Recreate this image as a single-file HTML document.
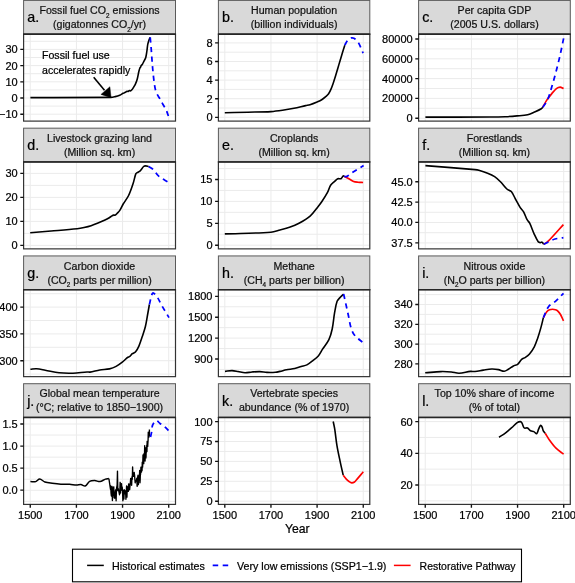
<!DOCTYPE html><html><head><meta charset="utf-8"><style>html,body{margin:0;padding:0;background:#fff;overflow:hidden;}svg{display:block;will-change:transform;}text{font-family:"Liberation Sans", sans-serif;stroke:currentColor;stroke-width:0.22px;}</style></head><body>
<svg width="575" height="583" viewBox="0 0 575 583">
<rect width="575" height="583" fill="#fff"/>
<rect x="23.60" y="0.40" width="151.90" height="33.70" fill="#d9d9d9" stroke="#5a5a5a" stroke-width="1"/>
<text x="99.55" y="14.00" font-size="10.62" text-anchor="middle" fill="#1a1a1a">Fossil fuel CO<tspan dy="3.7" font-size="6.3">2</tspan><tspan dy="-3.7"> emissions</tspan></text>
<text x="99.55" y="28.10" font-size="10.62" text-anchor="middle" fill="#1a1a1a">(gigatonnes CO<tspan dy="3.7" font-size="6.3">2</tspan><tspan dy="-3.7">/yr)</tspan></text>
<text x="27.20" y="22.30" font-size="14.3" fill="#000">a.</text>
<rect x="23.60" y="34.10" width="151.90" height="87.00" fill="#fff"/>
<path d="M23.60 41.30H175.50 M23.60 49.40H175.50 M23.60 57.50H175.50 M23.60 65.60H175.50 M23.60 73.70H175.50 M23.60 81.80H175.50 M23.60 89.90H175.50 M23.60 98.00H175.50 M23.60 106.10H175.50 M23.60 114.20H175.50 M30.26 34.10V121.10 M76.41 34.10V121.10 M122.56 34.10V121.10 M168.71 34.10V121.10" stroke="#ebebeb" stroke-width="1" fill="none"/>
<path d="M30.40 97.60 C57.17 97.53 83.96 97.72 110.70 97.40 C112.22 97.38 113.72 96.96 115.20 96.60 C116.72 96.23 118.26 95.80 119.70 95.20 C120.89 94.70 121.95 93.90 123.10 93.30 C124.01 92.83 124.99 92.47 125.90 92.00 C126.29 91.80 126.60 91.40 127.00 91.30 C127.37 91.20 127.84 91.52 128.20 91.40 C128.67 91.25 129.04 90.60 129.50 90.50 C129.81 90.43 130.20 91.00 130.50 90.90 C131.07 90.70 131.66 90.12 132.10 89.60 C132.66 88.95 133.06 88.15 133.50 87.40 C134.19 86.22 134.94 85.05 135.50 83.80 C136.17 82.31 136.77 80.77 137.20 79.20 C137.91 76.61 138.26 73.91 138.90 71.30 C139.19 70.11 139.54 68.91 140.00 67.80 C140.11 67.54 140.47 67.45 140.60 67.20 C140.87 66.68 140.89 65.99 141.20 65.50 C141.46 65.09 142.04 64.91 142.30 64.50 C142.97 63.45 143.43 62.23 144.00 61.10 C144.56 60.00 145.36 58.98 145.70 57.80 C146.33 55.61 146.55 53.27 146.90 51.00 C147.25 48.74 147.36 46.44 147.80 44.20 C148.10 42.67 148.58 41.17 149.10 39.70 C149.38 38.90 149.83 38.17 150.20 37.40" fill="none" stroke="#000" stroke-width="1.60" stroke-linejoin="round"/>
<path d="M150.20 37.40 C150.53 41.17 150.90 44.93 151.20 48.70 C151.60 53.80 151.89 58.90 152.30 64.00 C152.59 67.67 152.92 71.34 153.30 75.00 C153.62 78.01 153.96 81.01 154.40 84.00 C154.69 86.01 154.99 88.04 155.50 90.00 C155.86 91.37 156.37 92.73 157.00 94.00 C157.87 95.73 159.04 97.31 160.00 99.00 C161.04 100.81 161.96 102.69 163.00 104.50 C163.96 106.19 165.20 107.74 166.00 109.50 C167.16 112.04 167.93 114.77 168.90 117.40" fill="none" stroke="#0000ff" stroke-width="1.75" stroke-dasharray="5.2 4.4" stroke-linejoin="round"/>
<rect x="23.60" y="34.10" width="151.90" height="87.00" fill="none" stroke="#333" stroke-width="1.2"/>
<path d="M23.10 34.25H176.00" stroke="#262626" stroke-width="1.6"/>
<text x="17.70" y="53.30" font-size="11" text-anchor="end" fill="#000">30</text>
<text x="17.70" y="69.50" font-size="11" text-anchor="end" fill="#000">20</text>
<text x="17.70" y="85.70" font-size="11" text-anchor="end" fill="#000">10</text>
<text x="17.70" y="101.90" font-size="11" text-anchor="end" fill="#000">0</text>
<text x="17.70" y="118.10" font-size="11" text-anchor="end" fill="#000">−10</text>
<path d="M20.30 49.40H23.60 M20.30 65.60H23.60 M20.30 81.80H23.60 M20.30 98.00H23.60 M20.30 114.20H23.60" stroke="#111" stroke-width="1.35" fill="none"/>
<rect x="218.40" y="0.40" width="151.40" height="33.70" fill="#d9d9d9" stroke="#5a5a5a" stroke-width="1"/>
<text x="294.10" y="14.00" font-size="10.62" text-anchor="middle" fill="#1a1a1a">Human population</text>
<text x="294.10" y="28.10" font-size="10.62" text-anchor="middle" fill="#1a1a1a">(billion individuals)</text>
<text x="222.00" y="22.30" font-size="14.3" fill="#000">b.</text>
<rect x="218.40" y="34.10" width="151.40" height="87.00" fill="#fff"/>
<path d="M218.40 42.90H369.80 M218.40 52.20H369.80 M218.40 61.50H369.80 M218.40 70.80H369.80 M218.40 80.10H369.80 M218.40 89.40H369.80 M218.40 98.70H369.80 M218.40 108.00H369.80 M218.40 117.30H369.80 M224.80 34.10V121.10 M270.95 34.10V121.10 M317.10 34.10V121.10 M363.25 34.10V121.10" stroke="#ebebeb" stroke-width="1" fill="none"/>
<path d="M224.80 112.70 C232.50 112.53 240.20 112.38 247.90 112.20 C255.60 112.02 263.32 112.02 271.00 111.60 C274.85 111.39 278.68 110.85 282.50 110.30 C286.35 109.75 290.19 109.08 294.00 108.30 C297.89 107.51 301.73 106.47 305.60 105.60 C307.06 105.27 308.58 105.15 310.00 104.70 C312.41 103.95 314.77 102.98 317.10 102.00 C318.67 101.34 320.27 100.70 321.70 99.80 C323.24 98.83 324.62 97.60 326.00 96.40 C326.92 95.60 327.92 94.80 328.60 93.80 C329.58 92.37 330.30 90.71 331.00 89.10 C331.87 87.08 332.58 84.98 333.30 82.90 C334.11 80.55 334.87 78.18 335.60 75.80 C336.40 73.21 337.13 70.60 337.90 68.00 C338.67 65.40 339.42 62.80 340.20 60.20 C340.96 57.66 341.72 55.13 342.50 52.60 C343.26 50.13 344.03 47.67 344.80 45.20" fill="none" stroke="#000" stroke-width="1.60" stroke-linejoin="round"/>
<path d="M344.80 45.20 C345.57 43.80 346.19 42.29 347.10 41.00 C347.72 40.12 348.53 39.32 349.40 38.70 C350.03 38.25 350.84 37.88 351.60 37.80 C352.34 37.72 353.23 37.86 353.90 38.20 C354.76 38.63 355.51 39.39 356.20 40.10 C357.04 40.96 357.87 41.88 358.50 42.90 C359.40 44.35 360.10 45.94 360.80 47.50 C361.63 49.34 362.33 51.23 363.10 53.10" fill="none" stroke="#0000ff" stroke-width="1.75" stroke-dasharray="5.2 4.4" stroke-linejoin="round"/>
<rect x="218.40" y="34.10" width="151.40" height="87.00" fill="none" stroke="#333" stroke-width="1.2"/>
<path d="M217.90 34.25H370.30" stroke="#262626" stroke-width="1.6"/>
<text x="212.50" y="46.80" font-size="11" text-anchor="end" fill="#000">8</text>
<text x="212.50" y="65.40" font-size="11" text-anchor="end" fill="#000">6</text>
<text x="212.50" y="84.00" font-size="11" text-anchor="end" fill="#000">4</text>
<text x="212.50" y="102.60" font-size="11" text-anchor="end" fill="#000">2</text>
<text x="212.50" y="121.20" font-size="11" text-anchor="end" fill="#000">0</text>
<path d="M215.10 42.90H218.40 M215.10 61.50H218.40 M215.10 80.10H218.40 M215.10 98.70H218.40 M215.10 117.30H218.40" stroke="#111" stroke-width="1.35" fill="none"/>
<rect x="418.60" y="0.40" width="151.70" height="33.70" fill="#d9d9d9" stroke="#5a5a5a" stroke-width="1"/>
<text x="494.45" y="14.00" font-size="10.62" text-anchor="middle" fill="#1a1a1a">Per capita GDP</text>
<text x="494.45" y="28.10" font-size="10.62" text-anchor="middle" fill="#1a1a1a">(2005 U.S. dollars)</text>
<text x="422.20" y="22.30" font-size="14.3" fill="#000">c.</text>
<rect x="418.60" y="34.10" width="151.70" height="87.00" fill="#fff"/>
<path d="M418.60 39.00H570.30 M418.60 48.90H570.30 M418.60 58.80H570.30 M418.60 68.70H570.30 M418.60 78.60H570.30 M418.60 88.50H570.30 M418.60 98.40H570.30 M418.60 108.30H570.30 M418.60 118.20H570.30 M425.26 34.10V121.10 M471.41 34.10V121.10 M517.56 34.10V121.10 M563.71 34.10V121.10" stroke="#ebebeb" stroke-width="1" fill="none"/>
<path d="M425.40 117.10 C446.93 117.07 468.47 117.11 490.00 117.00 C495.03 116.97 500.07 116.90 505.10 116.70 C509.10 116.54 513.11 116.25 517.10 115.90 C520.64 115.59 524.27 115.50 527.70 114.70 C530.30 114.10 532.74 112.79 535.20 111.70 C537.27 110.79 539.37 109.84 541.30 108.70 C541.90 108.34 542.30 107.70 542.80 107.20" fill="none" stroke="#000" stroke-width="1.60" stroke-linejoin="round"/>
<path d="M542.80 107.20 C544.07 104.93 545.17 102.56 546.60 100.40 C548.17 98.03 549.98 95.79 551.80 93.60 C553.25 91.86 554.66 89.96 556.40 88.60 C557.42 87.80 558.87 87.10 560.10 87.10 C561.27 87.10 562.43 88.10 563.60 88.60" fill="none" stroke="#ff0000" stroke-width="1.65" stroke-linejoin="round"/>
<path d="M542.80 107.20 C544.30 104.93 546.21 102.87 547.30 100.40 C549.21 96.07 550.42 91.37 551.80 86.80 C553.46 81.30 554.95 75.75 556.40 70.20 C557.71 65.19 558.96 60.15 560.10 55.10 C561.46 49.09 562.63 43.03 563.90 37.00" fill="none" stroke="#0000ff" stroke-width="1.75" stroke-dasharray="5.2 4.4" stroke-linejoin="round"/>
<rect x="418.60" y="34.10" width="151.70" height="87.00" fill="none" stroke="#333" stroke-width="1.2"/>
<path d="M418.10 34.25H570.80" stroke="#262626" stroke-width="1.6"/>
<text x="412.70" y="42.90" font-size="11" text-anchor="end" fill="#000">80000</text>
<text x="412.70" y="62.70" font-size="11" text-anchor="end" fill="#000">60000</text>
<text x="412.70" y="82.50" font-size="11" text-anchor="end" fill="#000">40000</text>
<text x="412.70" y="102.30" font-size="11" text-anchor="end" fill="#000">20000</text>
<text x="412.70" y="122.10" font-size="11" text-anchor="end" fill="#000">0</text>
<path d="M415.30 39.00H418.60 M415.30 58.80H418.60 M415.30 78.60H418.60 M415.30 98.40H418.60 M415.30 118.20H418.60" stroke="#111" stroke-width="1.35" fill="none"/>
<rect x="23.60" y="128.17" width="151.90" height="33.70" fill="#d9d9d9" stroke="#5a5a5a" stroke-width="1"/>
<text x="99.55" y="141.77" font-size="10.62" text-anchor="middle" fill="#1a1a1a">Livestock grazing land</text>
<text x="99.55" y="155.87" font-size="10.62" text-anchor="middle" fill="#1a1a1a">(Million sq. km)</text>
<text x="27.20" y="150.07" font-size="14.3" fill="#000">d.</text>
<rect x="23.60" y="161.87" width="151.90" height="87.00" fill="#fff"/>
<path d="M23.60 173.40H175.50 M23.60 185.40H175.50 M23.60 197.40H175.50 M23.60 209.40H175.50 M23.60 221.40H175.50 M23.60 233.40H175.50 M23.60 245.40H175.50 M30.26 161.87V248.87 M76.41 161.87V248.87 M122.56 161.87V248.87 M168.71 161.87V248.87" stroke="#ebebeb" stroke-width="1" fill="none"/>
<path d="M30.20 232.70 C37.17 232.13 44.14 231.59 51.10 231.00 C59.80 230.26 68.52 229.62 77.20 228.70 C79.52 228.45 81.82 227.99 84.10 227.50 C86.45 226.99 88.81 226.44 91.10 225.70 C93.45 224.94 95.72 223.94 98.00 223.00 C100.35 222.04 102.70 221.08 105.00 220.00 C106.47 219.31 107.90 218.52 109.30 217.70 C110.23 217.15 111.08 216.47 112.00 215.90 C112.48 215.60 112.96 215.23 113.50 215.10 C114.10 214.96 114.87 215.34 115.40 215.10 C116.03 214.81 116.48 214.05 117.00 213.50 C117.95 212.48 119.04 211.56 119.80 210.40 C121.11 208.39 121.97 206.08 123.20 204.00 C124.91 201.11 127.15 198.51 128.60 195.50 C130.49 191.58 131.82 187.35 133.20 183.20 C134.22 180.15 134.70 176.86 135.80 173.90 C136.00 173.36 136.62 173.04 137.10 172.70 C138.09 172.00 139.34 171.62 140.20 170.80 C141.50 169.56 142.30 167.68 143.60 166.50 C144.10 166.05 144.92 165.90 145.60 165.90 C146.62 165.90 147.67 166.30 148.70 166.50" fill="none" stroke="#000" stroke-width="1.60" stroke-linejoin="round"/>
<path d="M148.70 166.50 C150.23 167.53 151.99 168.33 153.30 169.60 C155.32 171.56 156.54 174.41 158.70 176.20 C161.68 178.67 165.37 180.33 168.70 182.40" fill="none" stroke="#0000ff" stroke-width="1.75" stroke-dasharray="5.2 4.4" stroke-linejoin="round"/>
<rect x="23.60" y="161.87" width="151.90" height="87.00" fill="none" stroke="#333" stroke-width="1.2"/>
<path d="M23.10 162.02H176.00" stroke="#262626" stroke-width="1.6"/>
<text x="17.70" y="177.30" font-size="11" text-anchor="end" fill="#000">30</text>
<text x="17.70" y="201.30" font-size="11" text-anchor="end" fill="#000">20</text>
<text x="17.70" y="225.30" font-size="11" text-anchor="end" fill="#000">10</text>
<text x="17.70" y="249.30" font-size="11" text-anchor="end" fill="#000">0</text>
<path d="M20.30 173.40H23.60 M20.30 197.40H23.60 M20.30 221.40H23.60 M20.30 245.40H23.60" stroke="#111" stroke-width="1.35" fill="none"/>
<rect x="218.40" y="128.17" width="151.40" height="33.70" fill="#d9d9d9" stroke="#5a5a5a" stroke-width="1"/>
<text x="294.10" y="141.77" font-size="10.62" text-anchor="middle" fill="#1a1a1a">Croplands</text>
<text x="294.10" y="155.87" font-size="10.62" text-anchor="middle" fill="#1a1a1a">(Million sq. km)</text>
<text x="222.00" y="150.07" font-size="14.3" fill="#000">e.</text>
<rect x="218.40" y="161.87" width="151.40" height="87.00" fill="#fff"/>
<path d="M218.40 168.55H369.80 M218.40 179.50H369.80 M218.40 190.45H369.80 M218.40 201.40H369.80 M218.40 212.35H369.80 M218.40 223.30H369.80 M218.40 234.25H369.80 M218.40 245.20H369.80 M224.80 161.87V248.87 M270.95 161.87V248.87 M317.10 161.87V248.87 M363.25 161.87V248.87" stroke="#ebebeb" stroke-width="1" fill="none"/>
<path d="M224.80 233.90 C240.17 233.33 255.60 233.28 270.90 232.20 C274.00 231.98 276.98 230.79 280.00 230.00 C283.18 229.16 286.40 228.39 289.50 227.30 C292.73 226.16 295.99 224.92 299.00 223.30 C302.85 221.22 306.83 219.06 310.10 216.20 C313.16 213.52 315.42 209.91 318.00 206.70 C319.36 205.01 320.70 203.30 321.90 201.50 C323.87 198.54 325.82 195.53 327.50 192.40 C328.72 190.13 329.22 187.43 330.60 185.30 C331.59 183.76 333.23 182.66 334.60 181.40 C335.63 180.46 336.59 179.22 337.80 178.70 C338.69 178.32 340.07 179.14 340.90 178.70 C341.91 178.17 342.45 176.44 343.30 175.80 C343.51 175.64 343.83 176.13 344.10 176.30" fill="none" stroke="#000" stroke-width="1.60" stroke-linejoin="round"/>
<path d="M344.10 176.30 C345.40 176.93 346.73 177.52 348.00 178.20 C349.89 179.22 351.63 180.61 353.60 181.40 C354.96 181.95 356.52 182.03 358.00 182.20 C359.69 182.40 361.40 182.40 363.10 182.50" fill="none" stroke="#ff0000" stroke-width="1.65" stroke-linejoin="round"/>
<path d="M344.10 176.30 C344.90 176.40 345.80 176.92 346.50 176.60 C348.44 175.72 350.12 173.92 352.00 172.70 C355.82 170.22 359.73 167.90 363.60 165.50" fill="none" stroke="#0000ff" stroke-width="1.75" stroke-dasharray="5.2 4.4" stroke-linejoin="round"/>
<rect x="218.40" y="161.87" width="151.40" height="87.00" fill="none" stroke="#333" stroke-width="1.2"/>
<path d="M217.90 162.02H370.30" stroke="#262626" stroke-width="1.6"/>
<text x="212.50" y="183.40" font-size="11" text-anchor="end" fill="#000">15</text>
<text x="212.50" y="205.30" font-size="11" text-anchor="end" fill="#000">10</text>
<text x="212.50" y="227.20" font-size="11" text-anchor="end" fill="#000">5</text>
<text x="212.50" y="249.10" font-size="11" text-anchor="end" fill="#000">0</text>
<path d="M215.10 179.50H218.40 M215.10 201.40H218.40 M215.10 223.30H218.40 M215.10 245.20H218.40" stroke="#111" stroke-width="1.35" fill="none"/>
<rect x="418.60" y="128.17" width="151.70" height="33.70" fill="#d9d9d9" stroke="#5a5a5a" stroke-width="1"/>
<text x="494.45" y="141.77" font-size="10.62" text-anchor="middle" fill="#1a1a1a">Forestlands</text>
<text x="494.45" y="155.87" font-size="10.62" text-anchor="middle" fill="#1a1a1a">(Million sq. km)</text>
<text x="422.20" y="150.07" font-size="14.3" fill="#000">f.</text>
<rect x="418.60" y="161.87" width="151.70" height="87.00" fill="#fff"/>
<path d="M418.60 171.50H570.30 M418.60 181.70H570.30 M418.60 191.90H570.30 M418.60 202.10H570.30 M418.60 212.30H570.30 M418.60 222.50H570.30 M418.60 232.70H570.30 M418.60 242.90H570.30 M425.26 161.87V248.87 M471.41 161.87V248.87 M517.56 161.87V248.87 M563.71 161.87V248.87" stroke="#ebebeb" stroke-width="1" fill="none"/>
<path d="M425.40 165.60 C441.93 166.93 458.48 168.18 475.00 169.60 C476.28 169.71 477.57 169.85 478.80 170.20 C481.77 171.05 484.74 172.02 487.60 173.20 C490.01 174.19 492.45 175.26 494.60 176.70 C496.82 178.19 498.80 180.10 500.70 182.00 C502.90 184.20 504.62 186.93 506.90 189.00 C508.15 190.13 510.24 190.34 511.30 191.60 C513.17 193.84 514.23 196.87 515.70 199.50 C517.17 202.13 518.48 204.87 520.10 207.40 C521.11 208.97 522.68 210.18 523.60 211.80 C525.01 214.28 525.75 217.17 527.10 219.70 C527.78 220.97 529.06 221.91 529.70 223.20 C531.39 226.61 532.50 230.33 534.10 233.80 C535.34 236.49 536.56 239.37 538.20 241.70 C538.62 242.30 539.58 242.51 540.30 242.60 C540.85 242.67 541.55 241.98 542.00 242.20 C542.72 242.55 543.20 243.60 543.80 244.30" fill="none" stroke="#000" stroke-width="1.60" stroke-linejoin="round"/>
<path d="M543.80 244.30 C545.27 243.27 546.94 242.47 548.20 241.20 C553.47 235.90 558.33 230.13 563.40 224.60" fill="none" stroke="#ff0000" stroke-width="1.65" stroke-linejoin="round"/>
<path d="M543.80 244.30 C546.13 243.13 548.44 241.92 550.80 240.80 C552.18 240.15 553.53 239.37 555.00 239.00 C557.73 238.31 560.60 238.07 563.40 237.60" fill="none" stroke="#0000ff" stroke-width="1.75" stroke-dasharray="5.2 4.4" stroke-linejoin="round"/>
<rect x="418.60" y="161.87" width="151.70" height="87.00" fill="none" stroke="#333" stroke-width="1.2"/>
<path d="M418.10 162.02H570.80" stroke="#262626" stroke-width="1.6"/>
<text x="412.70" y="185.60" font-size="11" text-anchor="end" fill="#000">45.0</text>
<text x="412.70" y="206.00" font-size="11" text-anchor="end" fill="#000">42.5</text>
<text x="412.70" y="226.30" font-size="11" text-anchor="end" fill="#000">40.0</text>
<text x="412.70" y="246.70" font-size="11" text-anchor="end" fill="#000">37.5</text>
<path d="M415.30 181.70H418.60 M415.30 202.10H418.60 M415.30 222.40H418.60 M415.30 242.80H418.60" stroke="#111" stroke-width="1.35" fill="none"/>
<rect x="23.60" y="255.94" width="151.90" height="33.70" fill="#d9d9d9" stroke="#5a5a5a" stroke-width="1"/>
<text x="99.55" y="269.54" font-size="10.62" text-anchor="middle" fill="#1a1a1a">Carbon dioxide</text>
<text x="99.55" y="283.64" font-size="10.62" text-anchor="middle" fill="#1a1a1a">(CO<tspan dy="3.7" font-size="6.3">2</tspan><tspan dy="-3.7"> parts per million)</tspan></text>
<text x="27.20" y="277.84" font-size="14.3" fill="#000">g.</text>
<rect x="23.60" y="289.64" width="151.90" height="87.00" fill="#fff"/>
<path d="M23.60 293.70H175.50 M23.60 307.10H175.50 M23.60 320.50H175.50 M23.60 333.90H175.50 M23.60 347.30H175.50 M23.60 360.70H175.50 M23.60 374.10H175.50 M30.26 289.64V376.64 M76.41 289.64V376.64 M122.56 289.64V376.64 M168.71 289.64V376.64" stroke="#ebebeb" stroke-width="1" fill="none"/>
<path d="M30.40 369.30 C32.43 369.13 34.48 368.68 36.50 368.80 C39.41 368.98 42.31 369.69 45.20 370.20 C49.84 371.02 54.43 372.30 59.10 372.80 C63.69 373.30 68.37 373.33 73.00 373.20 C77.67 373.07 82.33 372.30 87.00 372.00 C88.00 371.94 89.02 372.25 90.00 372.10 C93.28 371.59 96.51 370.54 99.80 370.00 C103.01 369.47 106.35 369.60 109.50 368.90 C111.78 368.40 114.04 367.50 116.10 366.40 C118.41 365.17 120.53 363.52 122.60 361.90 C124.33 360.55 125.77 358.83 127.50 357.50 C128.20 356.96 129.21 356.85 129.90 356.30 C130.81 355.58 131.38 354.42 132.30 353.70 C133.28 352.92 134.79 352.73 135.60 351.80 C136.99 350.19 138.02 348.10 138.90 346.10 C140.18 343.20 141.10 340.12 142.10 337.10 C143.26 333.59 144.53 330.09 145.40 326.50 C146.43 322.22 147.01 317.84 147.80 313.50 C148.35 310.50 148.87 307.50 149.40 304.50" fill="none" stroke="#000" stroke-width="1.60" stroke-linejoin="round"/>
<path d="M149.40 304.50 C150.50 300.70 150.99 294.97 152.70 293.10 C153.46 292.27 155.78 295.01 156.80 296.40 C158.78 299.11 160.00 302.44 161.70 305.40 C164.06 309.51 166.57 313.53 169.00 317.60" fill="none" stroke="#0000ff" stroke-width="1.75" stroke-dasharray="5.2 4.4" stroke-linejoin="round"/>
<rect x="23.60" y="289.64" width="151.90" height="87.00" fill="none" stroke="#333" stroke-width="1.2"/>
<path d="M23.10 289.79H176.00" stroke="#262626" stroke-width="1.6"/>
<text x="17.70" y="311.00" font-size="11" text-anchor="end" fill="#000">400</text>
<text x="17.70" y="337.80" font-size="11" text-anchor="end" fill="#000">350</text>
<text x="17.70" y="364.60" font-size="11" text-anchor="end" fill="#000">300</text>
<path d="M20.30 307.10H23.60 M20.30 333.90H23.60 M20.30 360.70H23.60" stroke="#111" stroke-width="1.35" fill="none"/>
<rect x="218.40" y="255.94" width="151.40" height="33.70" fill="#d9d9d9" stroke="#5a5a5a" stroke-width="1"/>
<text x="294.10" y="269.54" font-size="10.62" text-anchor="middle" fill="#1a1a1a">Methane</text>
<text x="294.10" y="283.64" font-size="10.62" text-anchor="middle" fill="#1a1a1a">(CH<tspan dy="3.7" font-size="6.3">4</tspan><tspan dy="-3.7"> parts per billion)</tspan></text>
<text x="222.00" y="277.84" font-size="14.3" fill="#000">h.</text>
<rect x="218.40" y="289.64" width="151.40" height="87.00" fill="#fff"/>
<path d="M218.40 296.30H369.80 M218.40 306.75H369.80 M218.40 317.20H369.80 M218.40 327.65H369.80 M218.40 338.10H369.80 M218.40 348.55H369.80 M218.40 359.00H369.80 M218.40 369.45H369.80 M224.80 289.64V376.64 M270.95 289.64V376.64 M317.10 289.64V376.64 M363.25 289.64V376.64" stroke="#ebebeb" stroke-width="1" fill="none"/>
<path d="M225.00 371.40 C227.33 371.13 229.67 370.58 232.00 370.60 C234.00 370.62 236.01 371.16 238.00 371.50 C240.34 371.90 242.65 372.72 245.00 372.80 C247.32 372.88 249.66 372.19 252.00 372.00 C254.59 371.79 257.21 371.53 259.80 371.60 C262.21 371.66 264.59 372.29 267.00 372.40 C269.79 372.53 272.62 372.51 275.40 372.30 C276.95 372.18 278.48 371.74 280.00 371.40 C282.18 370.91 284.31 370.23 286.50 369.80 C289.21 369.26 292.01 369.10 294.70 368.50 C296.91 368.00 299.03 367.14 301.20 366.50 C303.09 365.94 305.16 365.77 306.90 364.90 C308.96 363.87 310.76 362.25 312.60 360.80 C314.56 359.25 316.68 357.78 318.30 355.90 C319.95 353.98 321.00 351.55 322.40 349.40 C324.54 346.11 327.22 343.10 328.90 339.60 C330.49 336.30 331.44 332.61 332.20 329.00 C333.34 323.64 333.64 318.10 334.60 312.70 C335.28 308.87 335.79 304.87 337.10 301.30 C337.69 299.71 339.15 298.49 340.30 297.20 C341.32 296.06 342.50 295.07 343.60 294.00" fill="none" stroke="#000" stroke-width="1.60" stroke-linejoin="round"/>
<path d="M343.60 294.00 C344.40 297.53 345.21 301.06 346.00 304.60 C346.85 308.40 347.68 312.20 348.50 316.00 C349.32 319.80 349.77 323.71 350.90 327.40 C351.67 329.94 352.57 332.65 354.20 334.70 C356.67 337.82 360.20 340.17 363.20 342.90" fill="none" stroke="#0000ff" stroke-width="1.75" stroke-dasharray="5.2 4.4" stroke-linejoin="round"/>
<rect x="218.40" y="289.64" width="151.40" height="87.00" fill="none" stroke="#333" stroke-width="1.2"/>
<path d="M217.90 289.79H370.30" stroke="#262626" stroke-width="1.6"/>
<text x="212.50" y="300.20" font-size="11" text-anchor="end" fill="#000">1800</text>
<text x="212.50" y="321.10" font-size="11" text-anchor="end" fill="#000">1500</text>
<text x="212.50" y="342.00" font-size="11" text-anchor="end" fill="#000">1200</text>
<text x="212.50" y="362.90" font-size="11" text-anchor="end" fill="#000">900</text>
<path d="M215.10 296.30H218.40 M215.10 317.20H218.40 M215.10 338.10H218.40 M215.10 359.00H218.40" stroke="#111" stroke-width="1.35" fill="none"/>
<rect x="418.60" y="255.94" width="151.70" height="33.70" fill="#d9d9d9" stroke="#5a5a5a" stroke-width="1"/>
<text x="494.45" y="269.54" font-size="10.62" text-anchor="middle" fill="#1a1a1a">Nitrous oxide</text>
<text x="494.45" y="283.64" font-size="10.62" text-anchor="middle" fill="#1a1a1a">(N<tspan dy="3.7" font-size="6.3">2</tspan><tspan dy="-3.7">O parts per billion)</tspan></text>
<text x="422.20" y="277.84" font-size="14.3" fill="#000">i.</text>
<rect x="418.60" y="289.64" width="151.70" height="87.00" fill="#fff"/>
<path d="M418.60 294.60H570.30 M418.60 304.50H570.30 M418.60 314.40H570.30 M418.60 324.30H570.30 M418.60 334.20H570.30 M418.60 344.10H570.30 M418.60 354.00H570.30 M418.60 363.90H570.30 M418.60 373.80H570.30 M425.26 289.64V376.64 M471.41 289.64V376.64 M517.56 289.64V376.64 M563.71 289.64V376.64" stroke="#ebebeb" stroke-width="1" fill="none"/>
<path d="M425.20 372.80 C430.43 372.40 435.66 371.76 440.90 371.60 C444.36 371.49 447.85 371.70 451.30 372.00 C453.92 372.23 456.50 373.28 459.10 373.20 C462.87 373.08 466.62 371.80 470.40 371.40 C471.92 371.24 473.48 371.65 475.00 371.50 C477.78 371.22 480.53 370.52 483.30 370.10 C486.09 369.68 488.89 369.09 491.70 369.00 C493.93 368.93 496.21 369.20 498.40 369.60 C500.37 369.96 502.32 371.36 504.20 371.30 C505.65 371.26 507.06 370.07 508.40 369.30 C510.13 368.31 511.65 366.95 513.40 366.00 C514.72 365.28 516.46 365.22 517.60 364.30 C519.23 362.99 520.13 360.71 521.70 359.30 C522.63 358.47 524.05 358.29 525.10 357.60 C526.58 356.63 528.16 355.64 529.30 354.30 C531.23 352.04 532.92 349.45 534.30 346.80 C535.68 344.15 536.62 341.24 537.60 338.40 C538.82 334.84 539.89 331.22 540.90 327.60 C541.82 324.29 542.57 320.93 543.40 317.60" fill="none" stroke="#000" stroke-width="1.60" stroke-linejoin="round"/>
<path d="M543.40 317.60 C544.53 315.63 545.43 313.45 546.80 311.70 C547.46 310.85 548.51 310.23 549.50 309.80 C550.45 309.39 551.57 309.20 552.60 309.20 C553.57 309.20 554.57 309.49 555.50 309.80 C556.24 310.05 557.04 310.37 557.60 310.90 C558.70 311.94 559.72 313.18 560.50 314.50 C561.69 316.52 562.50 318.77 563.50 320.90" fill="none" stroke="#ff0000" stroke-width="1.65" stroke-linejoin="round"/>
<path d="M543.40 317.60 C545.10 313.97 546.15 309.81 548.50 306.70 C550.35 304.25 553.65 303.00 556.00 300.90 C558.65 298.53 561.00 295.83 563.50 293.30" fill="none" stroke="#0000ff" stroke-width="1.75" stroke-dasharray="5.2 4.4" stroke-linejoin="round"/>
<rect x="418.60" y="289.64" width="151.70" height="87.00" fill="none" stroke="#333" stroke-width="1.2"/>
<path d="M418.10 289.79H570.80" stroke="#262626" stroke-width="1.6"/>
<text x="412.70" y="308.40" font-size="11" text-anchor="end" fill="#000">340</text>
<text x="412.70" y="328.20" font-size="11" text-anchor="end" fill="#000">320</text>
<text x="412.70" y="348.00" font-size="11" text-anchor="end" fill="#000">300</text>
<text x="412.70" y="367.80" font-size="11" text-anchor="end" fill="#000">280</text>
<path d="M415.30 304.50H418.60 M415.30 324.30H418.60 M415.30 344.10H418.60 M415.30 363.90H418.60" stroke="#111" stroke-width="1.35" fill="none"/>
<rect x="23.60" y="383.71" width="151.90" height="33.70" fill="#d9d9d9" stroke="#5a5a5a" stroke-width="1"/>
<text x="99.55" y="397.31" font-size="10.62" text-anchor="middle" fill="#1a1a1a">Global mean temperature</text>
<text x="99.55" y="411.41" font-size="10.62" text-anchor="middle" fill="#1a1a1a">(°C; relative to 1850−1900)</text>
<text x="27.20" y="405.61" font-size="14.3" fill="#000">j.</text>
<rect x="23.60" y="417.41" width="151.90" height="87.00" fill="#fff"/>
<path d="M23.60 424.00H175.50 M23.60 435.05H175.50 M23.60 446.10H175.50 M23.60 457.15H175.50 M23.60 468.20H175.50 M23.60 479.25H175.50 M23.60 490.30H175.50 M23.60 501.35H175.50 M30.26 417.41V504.41 M76.41 417.41V504.41 M122.56 417.41V504.41 M168.71 417.41V504.41" stroke="#ebebeb" stroke-width="1" fill="none"/>
<polyline points="108.90,478.70 110.50,489.40 110.70,485.90 111.04,493.05 111.38,495.98 111.72,489.77 112.05,486.53 112.39,500.50 112.73,494.84 113.07,497.67 113.41,487.47 113.75,486.88 114.08,495.22 114.42,493.97 114.76,498.28 115.10,495.65 115.44,490.73 115.78,489.74 116.11,500.80 116.45,489.17 116.79,486.78 117.13,485.11 117.47,471.10 117.81,490.62 118.14,488.52 118.48,489.73 118.82,491.17 119.16,492.98 119.50,494.72 119.84,490.90 120.17,482.30 120.51,493.02 120.85,483.90 121.19,489.31 121.53,483.79 121.86,490.23 122.20,486.95 122.54,491.31 122.88,500.80 123.22,490.35 123.56,494.26 123.89,499.00 124.23,489.57 124.57,493.74 124.91,490.58 125.25,492.34 125.59,490.86 125.92,499.30 126.26,492.16 126.60,485.91 126.94,497.11 127.28,486.55 127.62,491.33 127.95,488.06 128.29,491.41 128.63,483.94 128.97,490.03 129.31,484.41 129.65,489.59 129.99,486.05 130.32,483.19 130.66,478.43 131.00,483.92 131.32,481.81 131.64,485.31 131.96,476.67 132.29,479.25 132.61,466.90 132.93,476.29 133.25,476.04 133.57,476.26 133.89,473.62 134.21,472.36 134.54,475.03 134.86,479.10 135.18,482.80 135.50,480.88 135.82,481.28 136.14,480.33 136.46,480.14 136.79,478.29 137.11,486.30 137.43,484.55 137.75,476.67 138.07,475.22 138.39,484.66 138.71,477.50 139.04,479.62 139.36,478.61 139.68,470.33 140.00,482.76 140.19,479.64 140.38,473.13 140.56,474.45 140.75,471.45 140.94,467.06 141.13,469.08 141.32,470.08 141.50,472.00 141.69,469.79 141.88,466.69 142.07,470.57 142.26,462.11 142.44,466.86 142.63,467.16 142.82,461.26 143.01,455.02 143.20,457.36 143.38,460.63 143.57,460.83 143.76,463.65 143.95,453.62 144.14,456.46 144.32,458.04 144.51,454.38 144.70,445.67 144.89,456.35 145.08,461.02 145.26,455.56 145.45,447.89 145.64,448.96 145.83,450.49 146.02,457.89 146.20,450.30 146.39,447.65 146.58,452.00 146.77,445.25 146.96,451.40 147.14,441.39 147.33,441.30 147.52,444.76 147.71,446.44 147.90,442.82 148.08,440.67 148.27,432.08 148.46,435.13 148.65,434.56 148.84,433.90 149.02,436.99 149.21,432.73 149.40,435.84 149.40,429.50" fill="none" stroke="#000" stroke-width="1.35" stroke-linejoin="round" stroke-linecap="butt"/>
<path d="M30.40 481.60 C32.17 481.60 34.07 482.06 35.70 481.60 C37.17 481.19 38.34 478.94 39.70 479.00 C41.41 479.07 43.04 481.36 44.90 482.00 C47.20 482.79 49.75 482.96 52.20 483.30 C55.09 483.70 57.99 484.05 60.90 484.20 C63.79 484.35 66.71 484.03 69.60 484.20 C71.91 484.33 74.20 485.02 76.50 485.10 C77.96 485.15 79.47 484.45 80.90 484.60 C82.37 484.75 84.00 486.44 85.20 486.00 C86.90 485.38 87.85 482.39 89.60 481.40 C91.05 480.59 93.07 480.57 94.80 480.60 C96.54 480.63 98.34 481.84 100.00 481.60 C101.87 481.34 103.54 479.75 105.40 479.10 C106.51 478.71 107.73 478.70 108.90 478.50" fill="none" stroke="#000" stroke-width="1.5" stroke-linejoin="round"/>
<path d="M150.50 437.00 C150.97 434.90 151.53 432.82 151.90 430.70 C152.20 428.95 151.94 427.04 152.50 425.40 C153.04 423.81 154.09 422.16 155.20 421.00 C155.59 420.59 156.51 420.44 157.00 420.70 C158.11 421.28 158.92 422.66 160.00 423.50 C161.19 424.43 162.63 425.04 163.80 426.00 C165.47 427.37 166.93 429.00 168.50 430.50" fill="none" stroke="#0000ff" stroke-width="1.75" stroke-dasharray="5.2 4.4" stroke-linejoin="round"/>
<rect x="23.60" y="417.41" width="151.90" height="87.00" fill="none" stroke="#333" stroke-width="1.2"/>
<path d="M23.10 417.56H176.00" stroke="#262626" stroke-width="1.6"/>
<text x="17.70" y="427.90" font-size="11" text-anchor="end" fill="#000">1.5</text>
<text x="17.70" y="450.00" font-size="11" text-anchor="end" fill="#000">1.0</text>
<text x="17.70" y="472.00" font-size="11" text-anchor="end" fill="#000">0.5</text>
<text x="17.70" y="494.00" font-size="11" text-anchor="end" fill="#000">0.0</text>
<text x="30.26" y="518.91" font-size="11" text-anchor="middle" fill="#000">1500</text>
<text x="76.41" y="518.91" font-size="11" text-anchor="middle" fill="#000">1700</text>
<text x="122.56" y="518.91" font-size="11" text-anchor="middle" fill="#000">1900</text>
<text x="168.71" y="518.91" font-size="11" text-anchor="middle" fill="#000">2100</text>
<path d="M20.30 424.00H23.60 M20.30 446.10H23.60 M20.30 468.10H23.60 M20.30 490.10H23.60 M30.26 504.41V507.71 M76.41 504.41V507.71 M122.56 504.41V507.71 M168.71 504.41V507.71" stroke="#111" stroke-width="1.35" fill="none"/>
<rect x="218.40" y="383.71" width="151.40" height="33.70" fill="#d9d9d9" stroke="#5a5a5a" stroke-width="1"/>
<text x="294.10" y="397.31" font-size="10.62" text-anchor="middle" fill="#1a1a1a">Vertebrate species</text>
<text x="294.10" y="411.41" font-size="10.62" text-anchor="middle" fill="#1a1a1a">abundance (% of 1970)</text>
<text x="222.00" y="405.61" font-size="14.3" fill="#000">k.</text>
<rect x="218.40" y="417.41" width="151.40" height="87.00" fill="#fff"/>
<path d="M218.40 421.60H369.80 M218.40 431.55H369.80 M218.40 441.50H369.80 M218.40 451.45H369.80 M218.40 461.40H369.80 M218.40 471.35H369.80 M218.40 481.30H369.80 M218.40 491.25H369.80 M218.40 501.20H369.80 M224.80 417.41V504.41 M270.95 417.41V504.41 M317.10 417.41V504.41 M363.25 417.41V504.41" stroke="#ebebeb" stroke-width="1" fill="none"/>
<path d="M333.20 421.50 C333.70 423.97 334.31 426.41 334.70 428.90 C335.58 434.55 336.06 440.26 337.00 445.90 C337.86 451.06 339.02 456.18 340.10 461.30 C341.08 465.94 342.17 470.57 343.20 475.20" fill="none" stroke="#000" stroke-width="1.60" stroke-linejoin="round"/>
<path d="M343.20 475.20 C344.23 476.50 345.18 477.88 346.30 479.10 C347.11 479.98 348.02 480.81 349.00 481.50 C349.82 482.08 350.77 482.82 351.70 482.90 C352.60 482.98 353.73 482.54 354.50 482.00 C355.53 481.28 356.25 480.08 357.10 479.10 C359.19 476.68 361.23 474.23 363.30 471.80" fill="none" stroke="#ff0000" stroke-width="1.65" stroke-linejoin="round"/>
<rect x="218.40" y="417.41" width="151.40" height="87.00" fill="none" stroke="#333" stroke-width="1.2"/>
<path d="M217.90 417.56H370.30" stroke="#262626" stroke-width="1.6"/>
<text x="212.50" y="425.50" font-size="11" text-anchor="end" fill="#000">100</text>
<text x="212.50" y="445.40" font-size="11" text-anchor="end" fill="#000">75</text>
<text x="212.50" y="465.30" font-size="11" text-anchor="end" fill="#000">50</text>
<text x="212.50" y="485.20" font-size="11" text-anchor="end" fill="#000">25</text>
<text x="212.50" y="505.10" font-size="11" text-anchor="end" fill="#000">0</text>
<text x="224.80" y="518.91" font-size="11" text-anchor="middle" fill="#000">1500</text>
<text x="270.95" y="518.91" font-size="11" text-anchor="middle" fill="#000">1700</text>
<text x="317.10" y="518.91" font-size="11" text-anchor="middle" fill="#000">1900</text>
<text x="363.25" y="518.91" font-size="11" text-anchor="middle" fill="#000">2100</text>
<path d="M215.10 421.60H218.40 M215.10 441.50H218.40 M215.10 461.40H218.40 M215.10 481.30H218.40 M215.10 501.20H218.40 M224.80 504.41V507.71 M270.95 504.41V507.71 M317.10 504.41V507.71 M363.25 504.41V507.71" stroke="#111" stroke-width="1.35" fill="none"/>
<rect x="418.60" y="383.71" width="151.70" height="33.70" fill="#d9d9d9" stroke="#5a5a5a" stroke-width="1"/>
<text x="494.45" y="397.31" font-size="10.62" text-anchor="middle" fill="#1a1a1a">Top 10% share of income</text>
<text x="494.45" y="411.41" font-size="10.62" text-anchor="middle" fill="#1a1a1a">(% of total)</text>
<text x="422.20" y="405.61" font-size="14.3" fill="#000">l.</text>
<rect x="418.60" y="417.41" width="151.70" height="87.00" fill="#fff"/>
<path d="M418.60 421.60H570.30 M418.60 437.45H570.30 M418.60 453.30H570.30 M418.60 469.15H570.30 M418.60 485.00H570.30 M418.60 500.85H570.30 M425.26 417.41V504.41 M471.41 417.41V504.41 M517.56 417.41V504.41 M563.71 417.41V504.41" stroke="#ebebeb" stroke-width="1" fill="none"/>
<path d="M499.00 437.20 C501.10 435.87 503.31 434.69 505.30 433.20 C507.55 431.52 509.60 429.57 511.70 427.70 C513.57 426.04 515.20 424.01 517.20 422.60 C518.10 421.97 519.42 421.54 520.40 421.60 C520.98 421.64 521.56 422.34 521.90 422.90 C522.86 424.48 523.11 426.92 524.30 428.00 C524.98 428.62 526.59 427.60 527.50 428.00 C528.69 428.53 529.43 430.13 530.60 430.80 C531.53 431.33 532.83 431.14 533.80 431.60 C534.86 432.10 536.02 434.04 536.70 433.70 C537.62 433.24 537.93 430.68 538.60 429.20 C539.20 427.88 539.75 425.81 540.50 425.30 C540.88 425.04 541.68 426.26 542.00 426.90 C542.61 428.10 542.69 429.60 543.30 430.80 C543.76 431.70 544.57 432.40 545.20 433.20" fill="none" stroke="#000" stroke-width="1.60" stroke-linejoin="round"/>
<path d="M545.20 433.20 C546.67 435.57 547.98 438.04 549.60 440.30 C551.58 443.04 553.61 445.83 556.00 448.20 C558.28 450.46 561.07 452.20 563.60 454.20" fill="none" stroke="#ff0000" stroke-width="1.65" stroke-linejoin="round"/>
<rect x="418.60" y="417.41" width="151.70" height="87.00" fill="none" stroke="#333" stroke-width="1.2"/>
<path d="M418.10 417.56H570.80" stroke="#262626" stroke-width="1.6"/>
<text x="412.70" y="425.50" font-size="11" text-anchor="end" fill="#000">60</text>
<text x="412.70" y="457.20" font-size="11" text-anchor="end" fill="#000">40</text>
<text x="412.70" y="488.90" font-size="11" text-anchor="end" fill="#000">20</text>
<text x="425.26" y="518.91" font-size="11" text-anchor="middle" fill="#000">1500</text>
<text x="471.41" y="518.91" font-size="11" text-anchor="middle" fill="#000">1700</text>
<text x="517.56" y="518.91" font-size="11" text-anchor="middle" fill="#000">1900</text>
<text x="563.71" y="518.91" font-size="11" text-anchor="middle" fill="#000">2100</text>
<path d="M415.30 421.60H418.60 M415.30 453.30H418.60 M415.30 485.00H418.60 M425.26 504.41V507.71 M471.41 504.41V507.71 M517.56 504.41V507.71 M563.71 504.41V507.71" stroke="#111" stroke-width="1.35" fill="none"/>
<text x="42" y="58.9" font-size="10.6" fill="#000">Fossil fuel use</text>
<text x="42" y="73.9" font-size="10.6" fill="#000">accelerates rapidly</text>
<path d="M93.7 77.2L104.5 90.2" stroke="#000" stroke-width="1.6"/>
<path d="M111.1 97.7L100.9 94.4L109.9 86.7Z" fill="#000" stroke="#000" stroke-width="0.4" stroke-linejoin="round"/>
<text x="297.2" y="532.9" font-size="12.2" text-anchor="middle" fill="#000">Year</text>
<rect x="72.5" y="549.2" width="449" height="32.6" fill="#fff" stroke="#000" stroke-width="1.1"/>
<path d="M87.1 565.4H103.8" stroke="#000" stroke-width="1.5"/>
<text x="112.1" y="569.7" font-size="10.7" fill="#000">Historical estimates</text>
<path d="M212.7 565.4H229.4" stroke="#0000ff" stroke-width="1.6" stroke-dasharray="5.5 4.5"/>
<text x="237" y="569.7" font-size="10.7" fill="#000">Very low emissions (SSP1−1.9)</text>
<path d="M393.9 565.4H410.6" stroke="#ff0000" stroke-width="1.5"/>
<text x="419.6" y="569.7" font-size="10.7" fill="#000" textLength="96" lengthAdjust="spacingAndGlyphs">Restorative Pathway</text>
</svg></body></html>
